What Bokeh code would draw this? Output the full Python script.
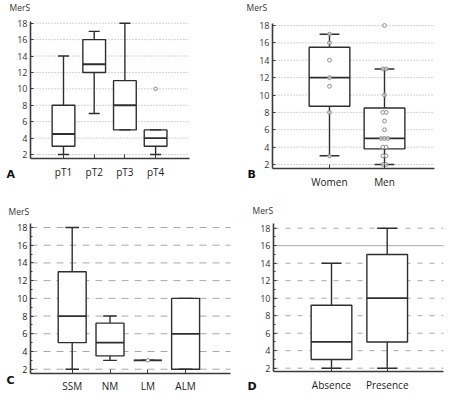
from bokeh.plotting import figure
from bokeh.layouts import gridplot
from bokeh.models import Range1d, FixedTicker, Label
from bokeh.embed import file_html
from bokeh.resources import INLINE

# ---------------- data ----------------
y_ticks = [2, 4, 6, 8, 10, 12, 14, 16, 18]

A_cats = ["pT1", "pT2", "pT3", "pT4"]
A_low = [2, 7, 5, 2]
A_q1 = [3, 12, 5, 3]
A_med = [4.5, 13, 8, 4]
A_q3 = [8, 16, 11, 5]
A_high = [14, 17, 18, 5]
A_out_cat = ["pT4"]
A_out_val = [10]

B_cats = ["Women", "Men"]
B_low = [3, 2]
B_q1 = [8.7, 3.8]
B_med = [12, 5]
B_q3 = [15.5, 8.5]
B_high = [17, 13]
B_women_pts = [3, 8, 11, 12, 14, 16, 17]
B_men_pts = [2, 2, 3, 3, 4, 4, 5, 5, 5, 6, 7, 8, 8, 10, 13, 13, 18]

C_cats = ["SSM", "NM", "LM", "ALM"]
C_low = [2, 3, 3, 2]
C_q1 = [5, 3.5, 3, 2]
C_med = [8, 5, 3, 6]
C_q3 = [13, 7.2, 3, 10]
C_high = [18, 8, 3, 10]
C_out_cat = ["LM"]
C_out_val = [3]

D_cats = ["Absence", "Presence"]
D_low = [2, 2]
D_q1 = [3, 5]
D_med = [5, 10]
D_q3 = [9.2, 15]
D_high = [14, 18]
D_solid_grid = [16]

y_title = "MerS"
letters = ["A", "B", "C", "D"]

# ---------------- style / layout ----------------
BOX = "#2e2e2e"
AXIS = "#3a3a3a"
GRID = "#a8a8a8"
FONT = "Open Sans"
ORIGIN = (3, 2)   # where the page puts the top-left of the grid


def panel(cats, low, q1, med, q3, high, lay, dash, letter, minor=False,
          box_w=0.74, cap_w=0.36, tick_color="#333333", solid=()):
    # lay: page-pixel layout of the panel (all in screen pixels)
    fx, fy, fw, fh = lay["fig"]
    c1, step = lay["cat"]
    y2, y18 = lay["y"]
    sy = (y2 - y18) / 16.0

    def X(px):
        return 1 + (px - c1) / step

    def Y(py):
        return 2 + (y2 - py) / sy

    p = figure(width=fw, height=fh, output_backend="svg", toolbar_location=None,
               title=None, x_range=Range1d(X(fx), X(fx + fw)),
               y_range=Range1d(Y(fy + fh), Y(fy)),
               min_border=0, min_border_left=0, min_border_right=0,
               min_border_top=0, min_border_bottom=0)
    p.outline_line_color = None
    p.xgrid.visible = False
    p.ygrid.visible = False

    ax_x, ax_y, right, top = X(lay["axis_x"]), Y(lay["axis_y"]), X(lay["right"]), Y(lay["top"])
    xs = list(range(1, len(cats) + 1))

    # horizontal grid lines, from the y axis to the right end of the x axis
    dashed = [v for v in y_ticks if v not in solid]
    p.segment(x0=[ax_x] * len(dashed), y0=dashed, x1=[right] * len(dashed), y1=dashed,
              line_color=GRID, line_width=1, line_dash=dash)
    if solid:
        p.segment(x0=[ax_x] * len(solid), y0=list(solid), x1=[right] * len(solid),
                  y1=list(solid), line_color=GRID, line_width=1)

    # boxes and whiskers
    p.segment(x0=xs, y0=q3, x1=xs, y1=high, line_color=BOX, line_width=1.4)
    p.segment(x0=xs, y0=low, x1=xs, y1=q1, line_color=BOX, line_width=1.4)
    p.vbar(x=xs, width=box_w, bottom=q1, top=q3, fill_color="white",
           line_color=BOX, line_width=1.4)
    p.segment(x0=[x - box_w / 2 for x in xs], y0=med,
              x1=[x + box_w / 2 for x in xs], y1=med, line_color=BOX, line_width=1.8)
    p.segment(x0=[x - cap_w / 2 for x in xs], y0=high,
              x1=[x + cap_w / 2 for x in xs], y1=high, line_color=BOX, line_width=1.4)
    p.segment(x0=[x - cap_w / 2 for x in xs], y0=low,
              x1=[x + cap_w / 2 for x in xs], y1=low, line_color=BOX, line_width=1.4)

    # axes, pinned at their place inside the frame
    p.xaxis.fixed_location = ax_y
    p.xaxis.bounds = (ax_x, right)
    p.yaxis.fixed_location = ax_x
    p.yaxis.bounds = (ax_y, top)

    p.xaxis.ticker = FixedTicker(ticks=xs)
    p.xaxis.major_label_overrides = {x: c for x, c in zip(xs, cats)}
    p.xaxis.major_tick_in = 4
    p.xaxis.major_tick_out = 0
    p.xaxis.major_label_standoff = 6
    p.xaxis.major_label_text_font = FONT
    p.xaxis.major_label_text_font_size = "10px"
    p.xaxis.major_label_text_color = "#222222"

    p.yaxis.ticker = FixedTicker(ticks=y_ticks,
                                 minor_ticks=[v + 1 for v in y_ticks[:-1]] if minor else [])
    p.yaxis.major_tick_in = 3
    p.yaxis.major_tick_out = 0
    p.yaxis.minor_tick_in = 2
    p.yaxis.minor_tick_out = 0
    p.yaxis.major_label_standoff = 3
    p.yaxis.major_label_text_font = FONT
    p.yaxis.major_label_text_font_size = "9px"
    p.yaxis.major_label_text_color = tick_color
    for ax in (p.xaxis, p.yaxis):
        ax.axis_line_color = AXIS
        ax.axis_line_width = 1.6
        ax.major_tick_line_color = AXIS
    p.yaxis.minor_tick_line_color = AXIS if minor else None
    p.xaxis.minor_tick_line_color = None

    mx_, my_ = lay["mers"]
    lx_, ly_ = lay["letter"]
    p.add_layout(Label(x=X(mx_), y=Y(my_), text=y_title, text_font=FONT,
                       text_font_size="8.5px", text_color="#333333",
                       text_baseline="middle"))
    p.add_layout(Label(x=X(lx_), y=Y(ly_), text=letter, text_font="DejaVu Sans",
                       text_font_size="11px", text_font_style="bold",
                       text_color="#111111", text_baseline="middle"))
    return p, X, Y


ox, oy = ORIGIN
LAY_A = dict(fig=(ox, oy, 234, 199), cat=(66, 30.7), y=(156, 24.7), axis_x=33,
             axis_y=160, right=192, top=23, mers=(12, 9), letter=(9, 176))
LAY_B = dict(fig=(ox + 234, oy, 229, 199), cat=(332, 55), y=(166, 27), axis_x=275,
             axis_y=170, right=437, top=25, mers=(249, 9), letter=(250, 176))
LAY_C = dict(fig=(ox, oy + 199, 234, 193), cat=(74.7, 37.8), y=(370.7, 229), axis_x=33,
             axis_y=374.7, right=233, top=225, mers=(11, 213), letter=(9, 382))
LAY_D = dict(fig=(ox + 234, oy + 199, 229, 193), cat=(334, 55.7), y=(369.7, 229.7),
             axis_x=276, axis_y=373, right=446, top=225, mers=(255, 212),
             letter=(250, 388))

pa, XA, YA = panel(A_cats, A_low, A_q1, A_med, A_q3, A_high, LAY_A, "1 2", letters[0])
pa.scatter(x=[A_cats.index(c) + 1 for c in A_out_cat], y=A_out_val, size=3.5,
           marker="circle", fill_color="white", line_color="#888888")

pb, XB, YB = panel(B_cats, B_low, B_q1, B_med, B_q3, B_high, LAY_B, "1 2", letters[1])


def jitter(center, vals, step=0.06):
    xs_, ys_ = [], []
    for v in sorted(set(vals)):
        k = vals.count(v)
        for i in range(k):
            xs_.append(center + (i - (k - 1) / 2) * step)
            ys_.append(v)
    return xs_, ys_


wx, wy = jitter(1, B_women_pts)
mx, my = jitter(2, B_men_pts)
pb.scatter(x=wx + mx, y=wy + my, size=3.8, marker="circle", fill_color="white",
           fill_alpha=0.6, line_color="#8a8a8a", line_width=1)

pc, XC, YC = panel(C_cats, C_low, C_q1, C_med, C_q3, C_high, LAY_C, "7 6", letters[2],
                   minor=True, tick_color="#1a1a1a")
pc.scatter(x=[C_cats.index(c) + 1 for c in C_out_cat], y=C_out_val, size=3.5,
           marker="circle", fill_color="white", line_color="#888888")

pd_, XD, YD = panel(D_cats, D_low, D_q1, D_med, D_q3, D_high, LAY_D, "5 7", letters[3],
                    minor=True, box_w=0.73, solid=D_solid_grid)

grid = gridplot([[pa, pb], [pc, pd_]], toolbar_location=None)

open("out.html", "w").write(file_html(grid, INLINE))
